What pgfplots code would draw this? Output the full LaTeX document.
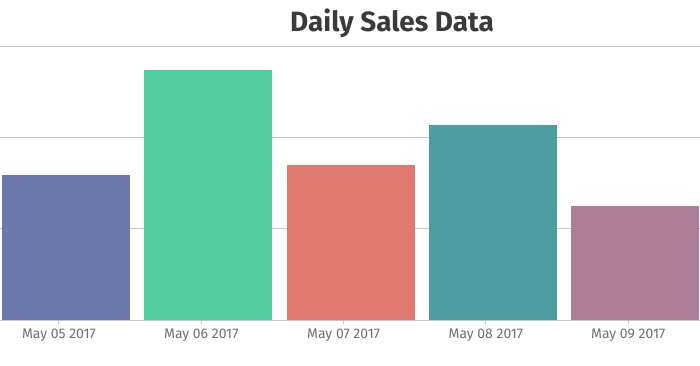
\documentclass[border=0pt]{standalone}
\usepackage{pgfplots}
\pgfplotsset{compat=1.18}
\usepackage{fontspec}
\setmainfont{Fira Sans}
\definecolor{c1}{HTML}{6D78AD}
\definecolor{c2}{HTML}{51CDA0}
\definecolor{c3}{HTML}{DF7970}
\definecolor{c4}{HTML}{4C9CA0}
\definecolor{c5}{HTML}{AE7D99}
\definecolor{gridc}{HTML}{C4C4C4}
\definecolor{tickc}{HTML}{707070}
\definecolor{titlec}{HTML}{3A3A3A}
\begin{document}
\begin{tikzpicture}
\useasboundingbox (0,-46bp) rectangle (700bp,320bp);
\begin{axis}[
  scale only axis,
  width=700bp, height=273bp,
  xmin=-0.4638, xmax=4.4553,
  ymin=0, ymax=30,
  axis x line=bottom, axis y line=left,
  x axis line style={gridc, line width=1bp, -},
  y axis line style={draw=none},
  ytick={10,20,30},
  yticklabels={},
  ytick style={draw=none},
  ymajorgrids,
  grid style={gridc, line width=1bp},
  xtick={-0.0492,0.9508,1.9508,2.9508,3.9508},
  xticklabels={May 05 2017,May 06 2017,May 07 2017,May 08 2017,May 09 2017},
  xtick style={gridc, line width=1bp},
  major tick length=4bp,
  tick align=outside,
  xticklabel style={font=\fontsize{14}{16}\selectfont, text=tickc, yshift=-1bp},
  ybar, bar width=0.9, bar shift=0pt,
  clip=false,
]
\addplot[fill=c1, draw=none] coordinates {(0,15.9)};
\addplot[fill=c2, draw=none] coordinates {(1,27.5)};
\addplot[fill=c3, draw=none] coordinates {(2,17.0)};
\addplot[fill=c4, draw=none] coordinates {(3,21.4)};
\addplot[fill=c5, draw=none] coordinates {(4,12.5)};
\end{axis}
\node[text=titlec, font=\fontsize{28}{32}\selectfont\bfseries] at (392bp,297bp) {Daily Sales Data};
\end{tikzpicture}
\end{document}
